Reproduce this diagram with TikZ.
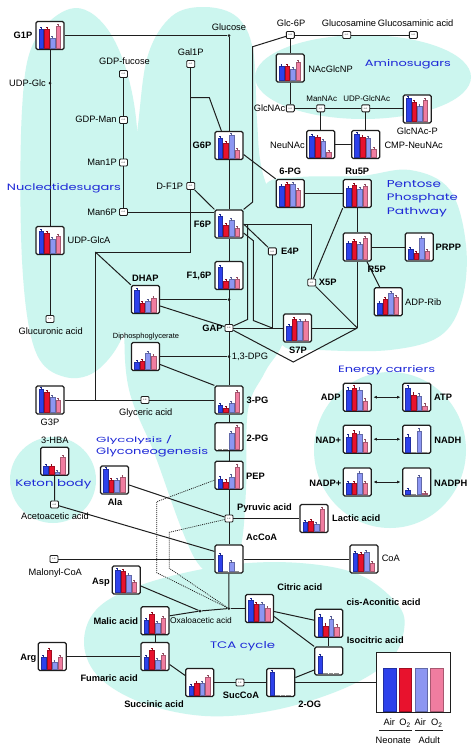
\documentclass[tikz,border=0pt]{standalone}
\usepackage{fontspec}
\usepackage{graphicx}
\setmainfont{Liberation Sans}
\newfontfamily\ttlfont{Poppins}
\usetikzlibrary{arrows.meta}
\definecolor{bgc}{RGB}{204,246,239}
\definecolor{cblue}{RGB}{45,65,235}
\definecolor{cred}{RGB}{232,18,45}
\definecolor{clb}{RGB}{140,150,242}
\definecolor{cpink}{RGB}{240,125,160}
\definecolor{ttl}{RGB}{30,40,215}
\definecolor{ln}{RGB}{30,30,30}
\tikzset{
 cbox/.style={draw=ln, line width=1.25pt, rounded corners=1.5pt, fill=white, minimum width=28pt, minimum height=28pt, inner sep=0pt},
 nd/.style={draw=ln, line width=0.9pt, rounded corners=1pt, fill=white, minimum width=8pt, minimum height=7pt, inner sep=0pt, font=\fontsize{2.2}{2.5}\selectfont, text=ln},
 lab/.style={font=\fontsize{9.3}{11}\selectfont, inner sep=0pt, text=black, anchor=base, yshift=-3.3pt},
 blab/.style={lab, font=\fontsize{9.3}{11}\selectfont\bfseries},
 slab/.style={lab, font=\fontsize{8}{9}\selectfont, yshift=0.4pt},
 conn/.style={draw=ln, line width=1pt},
 dconn/.style={draw=ln, line width=0.75pt, dash pattern=on 1pt off 1pt},
 dbl/.style={draw=ln, line width=0.9pt, {Latex[length=3.5pt,width=3pt]}-{Latex[length=3.5pt,width=3pt]}, shorten <=1.5pt, shorten >=1.5pt},
 jdot/.style={circle, fill=ln, inner sep=0pt, minimum size=3pt},
 ttlnode/.style={text=ttl, inner sep=0pt, anchor=base, yshift=-3.5pt},
}
\newcommand\metbox[6]{%
  \node[cbox] (#1) at (#2) {};
  \foreach \hv/\cv [count=\ci from 0] in {#3/cblue,#4/cred,#5/clb,#6/cpink}{%
    \ifdim\hv pt>0.5pt
      \filldraw[fill=\cv, draw=\cv!70!black, line width=0.3pt]
        ([xshift=3.5pt+\ci*5.6pt, yshift=2pt]#1.south west) rectangle ++(4.6,-\hv);
      \draw[draw=\cv!60!black, line width=0.35pt]
        ([xshift=5.8pt+\ci*5.6pt, yshift=2pt+\hv pt]#1.south west) -- ++(0,-2.2) ++(-0.9,0) -- ++(1.8,0);
    \else
      \draw[draw=black!45, line width=0.5pt]
        ([xshift=3.5pt+\ci*5.6pt, yshift=2pt]#1.south west) -- ++(4.6,0);
    \fi
  }%
}
\begin{document}
\begin{tikzpicture}[x=1pt,y=-1pt]
\useasboundingbox (0,0) rectangle (474,750);
\fill[white] (0,0) rectangle (474,750);
% ---------- background regions
\fill[bgc] plot[smooth cycle, tension=0.6] coordinates {(22,110) (35,40) (75,8) (112,36) (135,110) (138,220) (128,320) (100,368) (65,377) (35,350) (22,260)};
\fill[bgc] plot[smooth cycle, tension=0.6] coordinates {(138,125) (148,55) (172,16) (205,7) (237,17) (253,50) (257,120) (262,170) (282,235) (286,330) (265,372) (248,410) (246,490) (240,550) (222,576) (200,566) (182,530) (155,455) (128,385) (125,300) (130,200)};
\fill[bgc] plot[smooth cycle, tension=0.6] coordinates {(265,185) (300,177) (360,176) (410,170) (450,190) (466,245) (462,300) (440,336) (390,350) (320,350) (282,345) (265,300) (258,230)};
\fill[bgc] (363,77) ellipse[x radius=108, y radius=42];
\fill[bgc] (390,450) ellipse[x radius=76, y radius=78];
\fill[bgc] (53,480) circle[radius=43];
\fill[bgc] plot[smooth cycle, tension=0.6] coordinates {(84,640) (100,606) (150,582) (228,565) (300,563) (360,575) (398,605) (404,630) (390,660) (345,688) (275,710) (205,716) (140,702) (97,675)};
% ---------- chart boxes
\metbox{G1P}{50,35.5}{19}{19}{10}{22}
\metbox{UDPGlcA}{50,240.5}{22}{20}{14}{17}
\metbox{G6P}{229,145.5}{20}{15}{23}{8}
\metbox{F6P}{229,224}{20}{11}{16}{8}
\metbox{F16P}{229,275.5}{21}{7}{9}{9}
\metbox{DHAP}{145.5,299.5}{22}{9}{11}{14}
\metbox{DPG}{145.5,356.5}{7}{8}{16}{13}
\metbox{G3P}{50,400}{23}{20}{15}{12}
\metbox{PGthree}{229,400}{7}{4}{9}{20}
\metbox{PGtwo}{229,436.8}{0}{0}{16}{22}
\metbox{PEP}{229,475.2}{9}{6}{11}{21}
\metbox{AcCoA}{229,559}{16}{0}{9}{0}
\metbox{CoA}{364,559}{18}{17}{19}{8}
\metbox{Lactic}{314,518.5}{9}{10}{7}{22}
\metbox{Ala}{114.5,480}{23}{12}{12}{15}
\metbox{HBA}{54.7,461.3}{8}{8}{2}{17}
\metbox{Asp}{126.2,580}{22}{21}{17}{10}
\metbox{Malic}{155,620.8}{13}{19}{10}{15}
\metbox{Fumaric}{155,656.5}{12}{19}{9}{14}
\metbox{Arg}{52.2,656.5}{12}{19}{7}{12}
\metbox{Succinic}{199.8,682.5}{9}{12}{12}{18}
\metbox{OGtwo}{280.8,682.5}{23}{0}{0}{0}
\metbox{Isocitric}{328.8,661}{17}{0}{0}{0}
\metbox{cisAco}{328.8,623.2}{19}{10}{17}{9}
\metbox{Citric}{259.5,608.5}{21}{17}{17}{13}
\metbox{NAcGlcNP}{290.3,68}{14}{14}{11}{18}
\metbox{GlcNAcP}{417.2,109}{23}{19}{15}{21}
\metbox{NeuNAc}{320.7,144.5}{21}{20}{16}{5}
\metbox{CMPNeuNAc}{365.7,144.5}{23}{20}{19}{8}
\metbox{PGsix}{290.3,193.5}{20}{22}{22}{16}
\metbox{RuFP}{357.3,193.5}{18}{21}{17}{20}
\metbox{RFP}{357.3,247}{16}{18}{15}{21}
\metbox{PRPP}{419.2,247}{10}{6}{21}{8}
\metbox{ADPRib}{388.3,301.7}{11}{15}{21}{17}
\metbox{SSP}{297.5,328}{14}{21}{19}{19}
\metbox{ADP}{357.2,397.2}{20}{22}{20}{9}
\metbox{ATP}{416.7,397.2}{22}{15}{14}{4}
\metbox{NAD}{357.2,439.2}{15}{19}{18}{10}
\metbox{NADH}{416.7,439.2}{15}{0}{21}{0}
\metbox{NADP}{357.2,482}{11}{11}{21}{11}
\metbox{NADPH}{416.7,482}{4}{0}{17}{1}
% ---------- small n.d. boxes
\node[nd] (glc6p) at (290.3,35) {n.d.};
\node[nd] (glcam) at (346.7,35) {n.d.};
\node[nd] (glcacid) at (413.3,35) {n.d.};
\node[nd] (glcnac) at (290.3,108.3) {n.d.};
\node[nd] (mannac) at (320.7,108.3) {n.d.};
\node[nd] (udpglcnac) at (365.7,108.3) {n.d.};
\node[nd] (gal1p) at (190.7,64) {n.d.};
\node[nd] (gdpfuc) at (123.5,74) {n.d.};
\node[nd] (gdpman) at (123.5,120) {n.d.};
\node[nd] (man1p) at (123.5,162.5) {n.d.};
\node[nd] (df1p) at (190.7,186) {n.d.};
\node[nd] (man6p) at (123.5,212) {n.d.};
\node[nd] (glcu) at (50,319) {n.d.};
\node[nd] (gap) at (229,328) {n.d.};
\node[nd] (e4p) at (272.3,251.3) {n.d.};
\node[nd] (x5p) at (311.7,282.5) {n.d.};
\node[nd] (glyc) at (145,400) {n.d.};
\node[nd] (acac) at (54.5,504.5) {n.d.};
\node[nd] (pyr) at (229,518.5) {n.d.};
\node[nd] (malco) at (54,559) {n.d.};
\node[nd] (succoa) at (240,682.5) {n.d.};
% ---------- junction dots
\node[jdot] (glcdot) at (229,35.5) {};
\node[jdot] (udpglc) at (50,83) {};
\node[jdot] (dhapdot) at (229,299.5) {};
\node[jdot] (dpgdot) at (229,356.5) {};
\node[jdot] (oaaj) at (228.8,608.5) {};
\node[jdot] (oaadot) at (200,611) {};
% ---------- legend
\node[draw=ln, line width=0.9pt, fill=white, minimum width=74pt, minimum height=60.4pt, inner sep=0pt] (legend) at (413.7,682.5) {};
\filldraw[fill=cblue, draw=cblue!70!black, line width=0.4pt] (383.3,711.5) rectangle (395.8,668.3);
\filldraw[fill=cred, draw=cred!70!black, line width=0.4pt] (399,711.5) rectangle (411.5,668.3);
\filldraw[fill=clb, draw=clb!70!black, line width=0.4pt] (414.9,711.5) rectangle (427.4,668.3);
\filldraw[fill=cpink, draw=cpink!70!black, line width=0.4pt] (430.5,711.5) rectangle (443,668.3);
\node[lab] (tAirA) at (389.3,722.3) {Air};
\node[lab] (tOA) at (405,722.3) {O\textsubscript{2}};
\node[lab] (tAirB) at (420.3,722.3) {Air};
\node[lab] (tOB) at (436.7,722.3) {O\textsubscript{2}};
\draw[draw=ln, line width=0.7pt] (379,730) -- (411.7,730);
\draw[draw=ln, line width=0.7pt] (415,730) -- (443.3,730);
\node[lab] (tNeo) at (393.3,740) {Neonate};
\node[lab] (tAdu) at (429.3,740) {Adult};
% ---------- connectors
\draw[conn] (G1P) -- (glcdot);
\draw[conn] (G1P) -- (UDPGlcA);
\draw[conn] (UDPGlcA) -- (glcu);
\draw[conn] (glcdot) -- (G6P);
\draw[conn] (G6P) -- (F6P);
\draw[conn] (F6P) -- (F16P);
\draw[conn] (F16P) -- (gap);
\draw[conn] (gap) -- (PGthree);
\draw[conn] (PGthree) -- (PGtwo);
\draw[conn] (PGtwo) -- (PEP);
\draw[conn] (PEP) -- (pyr);
\draw[conn] (pyr) -- (AcCoA);
\draw[conn] (AcCoA) -- (oaaj);
\draw[conn] (oaaj) -- (Citric);
\draw[conn] (gdpfuc) -- (gdpman);
\draw[conn] (gdpman) -- (man1p);
\draw[conn] (man1p) -- (man6p);
\draw[conn] (man6p) -- (man6p -| F6P.west);
\draw[conn] (gal1p) -- (df1p);
\coordinate (ga) at (190.7,97.6);
\coordinate (gb) at (209.3,97.6);
\draw[conn] (ga) -- (gb) -- ([xshift=7pt]G6P.north west);
\draw[conn] (df1p) -- (F6P.north west);
\coordinate (ca) at (190.7,252);
\coordinate (cb) at (95.3,252);
\coordinate (cc) at (95.3,400);
\draw[conn] (df1p) -- (ca) -- (cb) -- (cc);
\draw[conn] (cb) -- (DHAP.north west);
\draw[conn] (G3P) -- (glyc);
\draw[conn] (glyc) -- (PGthree);
\draw[conn] (DHAP) -- (dhapdot);
\draw[conn] ([yshift=-6.5pt]DHAP.east) -- (gap);
\draw[conn] (DPG) -- (dpgdot);
\draw[conn] ([yshift=-8pt]DPG.east) -- (PGthree.north west);
\coordinate (xa) at (311.7,224);
\draw[conn] (F6P.east) -- (xa) -- (x5p);
\draw[conn] (F6P.east) -- (e4p);
\coordinate (va) at (247.5,224);
\coordinate (vb) at (247.5,319.5);
\draw[conn] (va) -- (vb) -- (gap);
\coordinate (wa) at (253.3,240.7);
\coordinate (wb) at (253.3,320.5);
\coordinate (jb) at (272.3,328);
\draw[conn] ([yshift=-9pt]F6P.east) -- (wa) -- (wb) -- (jb);
\draw[conn] (e4p) -- (jb);
\draw[conn] (gap) -- (SSP);
\coordinate (ja) at (357.3,328);
\coordinate (bv) at (293.3,362);
\draw[conn] (SSP) -- (ja);
\draw[conn] (gap) -- (bv) -- (ja);
\draw[conn] (x5p) -- (ja);
\draw[conn] (ja) -- (RFP);
\draw[conn] (x5p) -- (RuFP.south west);
\draw[conn] (RuFP) -- (RFP);
\draw[conn] (RFP) -- (PRPP);
\draw[conn] ([xshift=-5pt]RFP.south east) -- ([xshift=6pt]ADPRib.north west);
\draw[conn] (PGsix) -- (RuFP);
\draw[conn] ([yshift=-9pt]G6P.east) -- (PGsix.north west);
\coordinate (ka) at (252.7,202);
\coordinate (kb) at (252.7,46.7);
\draw[conn] (F6P.north east) -- (ka) -- (kb) -- (glc6p);
\draw[conn] (glc6p) -- (glcam);
\draw[conn] (glcam) -- (glcacid);
\draw[conn] (glc6p) -- (NAcGlcNP);
\draw[conn] (NAcGlcNP) -- (glcnac);
\draw[conn] (glcnac) -- (mannac);
\draw[conn] (mannac) -- (udpglcnac);
\draw[conn] (udpglcnac) -- (udpglcnac -| GlcNAcP.west);
\draw[conn] (mannac) -- (NeuNAc);
\draw[conn] (udpglcnac) -- (CMPNeuNAc);
\draw[conn] (NeuNAc) -- (CMPNeuNAc);
\draw[dbl] (ADP) -- (ATP);
\draw[dbl] (NAD) -- (NADH);
\draw[dbl] (NADP) -- (NADPH);
\draw[conn] (pyr) -- (Lactic);
\draw[conn] ([yshift=-5pt]Ala.east) -- (pyr);
\draw[conn] (HBA) -- (acac);
\draw[conn] (acac) -- ([yshift=-7pt]AcCoA.north west);
\draw[conn] (malco) -- (AcCoA);
\draw[conn] (AcCoA) -- (CoA);
\coordinate (da) at (156.7,501.7);
\coordinate (db) at (156.7,572.7);
\coordinate (ea) at (169.3,532.3);
\coordinate (eb) at (169.3,568.3);
\draw[dconn] ([yshift=-5pt]PEP.west) -- (da) -- (db) -- (oaaj);
\draw[dconn] (pyr) -- (ea) -- (eb) -- (oaaj);
\draw[conn] (oaaj) -- (oaadot);
\draw[conn] (oaadot) -- ([yshift=5pt]Malic.east);
\draw[conn] ([yshift=-6pt]Asp.east) -- (oaadot);
\draw[conn] (Malic) -- (Fumaric);
\draw[conn] (Arg) -- (Fumaric);
\draw[conn] ([yshift=-8pt]Fumaric.east) -- ([yshift=7pt]Succinic.west);
\draw[conn] (Succinic) -- (succoa);
\draw[conn] (succoa) -- (OGtwo);
\draw[conn] ([yshift=-3pt]Citric.east) -- ([yshift=3pt]cisAco.west);
\draw[conn] ([yshift=-8pt]Citric.east) -- (Isocitric.north west);
\draw[conn] (cisAco) -- (Isocitric);
\draw[conn] ([yshift=-9pt]Isocitric.west) -- ([yshift=5pt]OGtwo.east);
\draw[conn] (OGtwo) -- (legend);
% ---------- labels
\node[lab] (tGlucose) at (229,27.5) {Glucose};
\node[blab] (tG1P) at (23,35.5) {G1P};
\node[lab] (tUDPGlc) at (27.5,83) {UDP-Glc};
\node[lab] (tGDPfuc) at (124.5,61.3) {GDP-fucose};
\node[lab] (tGal1P) at (190.7,51.7) {Gal1P};
\node[lab] (tGDPMan) at (96,119.5) {GDP-Man};
\node[lab] (tMan1P) at (102,162.5) {Man1P};
\node[lab] (tDF1P) at (169.7,186) {D-F1P};
\node[lab] (tMan6P) at (102,212) {Man6P};
\node[lab] (tUDPGlcA) at (89,240.5) {UDP-GlcA};
\node[lab] (tGlcu) at (50.7,331.5) {Glucuronic acid};
\node[blab] (tG6P) at (202,145.5) {G6P};
\node[blab] (tF6P) at (202.5,224) {F6P};
\node[blab] (tF16P) at (199,275.5) {F1,6P};
\node[blab] (tDHAP) at (145.3,278) {DHAP};
\node[blab] (tGAP) at (212.5,328) {GAP};
\node[lab, font=\fontsize{7.5}{9}\selectfont, yshift=0.6pt] (tDPG) at (146,336) {Diphosphoglycerate};
\node[lab] (tDPGb) at (250,356.5) {1,3-DPG};
\node[blab] (tS7P) at (298,350) {S7P};
\node[blab] (tE4P) at (290,251.3) {E4P};
\node[blab] (tX5P) at (327.7,282.5) {X5P};
\node[blab] (tR5P) at (376.7,269.3) {R5P};
\node[blab] (tPRPP) at (448.3,247) {PRPP};
\node[lab] (tADPRib) at (423.3,301.7) {ADP-Rib};
\node[blab] (tPG6) at (290.3,171) {6-PG};
\node[blab] (tRu5P) at (357.3,171) {Ru5P};
\node[lab] (tGlc6P) at (291,23.3) {Glc-6P};
\node[lab] (tGlcam) at (349,23.3) {Glucosamine};
\node[lab] (tGlcacid) at (415.7,23.3) {Glucosaminic acid};
\node[lab] (tNAcGlcNP) at (330.5,69) {NAcGlcNP};
\node[lab, anchor=base east] (tGlcNAc) at (285.5,108.3) {GlcNAc};
\node[slab] (tManNAc) at (321.7,98.3) {ManNAc};
\node[slab] (tUDPGlcNAc) at (366.7,98.3) {UDP-GlcNAc};
\node[lab] (tGlcNAcP) at (417.3,130.7) {GlcNAc-P};
\node[lab, anchor=base east] (tNeuNAc) at (305,145) {NeuNAc};
\node[lab] (tCMP) at (413.7,145.5) {CMP-NeuNAc};
\node[blab] (tADP) at (330.7,396.7) {ADP};
\node[blab] (tATP) at (443,396.7) {ATP};
\node[blab] (tNAD) at (328.3,440) {NAD+};
\node[blab] (tNADH) at (447.8,440) {NADH};
\node[blab] (tNADP) at (325.3,482.7) {NADP+};
\node[blab] (tNADPH) at (450.7,482.7) {NADPH};
\node[blab] (tLactic) at (356.2,518) {Lactic acid};
\node[blab] (tPyr) at (264.5,506.7) {Pyruvic acid};
\node[blab] (tAcCoA) at (261.7,537) {AcCoA};
\node[lab] (tCoA) at (390.8,558.5) {CoA};
\node[blab] (tPG3) at (257.5,400) {3-PG};
\node[blab] (tPG2) at (257.5,437.7) {2-PG};
\node[blab] (tPEP) at (255.5,476) {PEP};
\node[lab] (tG3P) at (50,421.7) {G3P};
\node[lab] (tGlyc) at (145.8,411.7) {Glyceric acid};
\node[lab] (tHBA) at (54.8,440) {3-HBA};
\node[blab] (tAla) at (115,502.3) {Ala};
\node[lab] (tAcac) at (55,516) {Acetoacetic acid};
\node[lab] (tMalco) at (55.3,571.7) {Malonyl-CoA};
\node[blab] (tAsp) at (101,580.7) {Asp};
\node[blab] (tMalic) at (115.8,620.7) {Malic acid};
\node[lab, font=\fontsize{8.4}{10}\selectfont, yshift=0.3pt] (tOAA) at (201,620) {Oxaloacetic acid};
\node[blab] (tArg) at (28.3,656.7) {Arg};
\node[blab] (tFum) at (109.2,678.3) {Fumaric acid};
\node[blab] (tSucc) at (154,704.3) {Succinic acid};
\node[blab] (tSucCoA) at (241,695.5) {SucCoA};
\node[blab] (tOG2) at (309.8,704.3) {2-OG};
\node[blab] (tCitric) at (299.8,587.3) {Citric acid};
\node[blab] (tcisAco) at (383.5,601.7) {cis-Aconitic acid};
\node[blab] (tIso) at (375.3,640) {Isocitric acid};
% ---------- section titles
\node[ttlnode] (tNuc) at (64,186.5) {\resizebox{114pt}{7pt}{\ttlfont Nucleotidesugars}};
\node[ttlnode] (tAmino) at (408,63.3) {\resizebox{86pt}{7pt}{\ttlfont Aminosugars}};
\node[ttlnode, anchor=base west] (tPenA) at (386.7,184) {\resizebox{54pt}{7pt}{\ttlfont Pentose}};
\node[ttlnode, anchor=base west] (tPenB) at (386.7,197.3) {\resizebox{71pt}{7pt}{\ttlfont Phosphate}};
\node[ttlnode, anchor=base west] (tPenC) at (386.7,210.7) {\resizebox{60pt}{7pt}{\ttlfont Pathway}};
\node[ttlnode] (tEnergy) at (386.7,369.3) {\resizebox{97pt}{7pt}{\ttlfont Energy carriers}};
\node[ttlnode, anchor=base west] (tGlyA) at (96,439) {\resizebox{76pt}{7pt}{\ttlfont Glycolysis /}};
\node[ttlnode, anchor=base west] (tGlyB) at (96,451) {\resizebox{112pt}{7pt}{\ttlfont Glyconeogenesis}};
\node[ttlnode] (tKeton) at (53.3,483) {\resizebox{76pt}{7pt}{\ttlfont Keton body}};
\node[ttlnode] (tTCA) at (242.5,645) {\resizebox{65pt}{7pt}{\ttlfont TCA cycle}};
\end{tikzpicture}
\end{document}
